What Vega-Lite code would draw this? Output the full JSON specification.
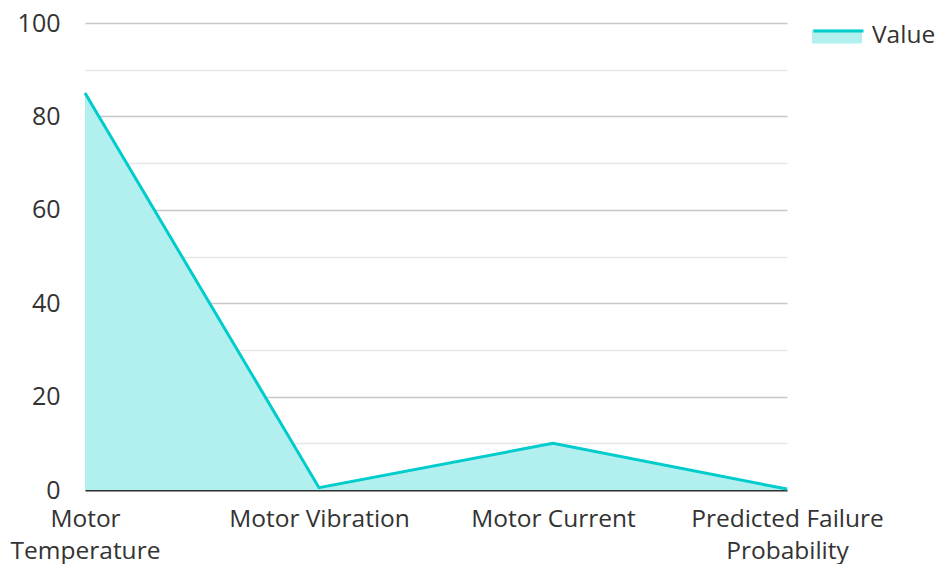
{
  "$schema": "https://vega.github.io/schema/vega-lite/v6.json",
  "width": 702,
  "height": 467,
  "autosize": {"type": "none"},
  "padding": {"left": 85, "top": 23, "right": 149, "bottom": 74},
  "background": "white",
  "config": {
    "view": {"stroke": null},
    "font": "Open Sans"
  },
  "data": {
    "values": [
      {"metric": "Motor Temperature", "value": 85},
      {"metric": "Motor Vibration", "value": 0.5},
      {"metric": "Motor Current", "value": 10},
      {"metric": "Predicted Failure Probability", "value": 0.2}
    ]
  },
  "encoding": {
    "x": {
      "field": "metric",
      "type": "ordinal",
      "sort": null,
      "scale": {"type": "point", "padding": 0},
      "axis": {
        "title": null,
        "labelAngle": 0,
        "labelFont": "Open Sans",
        "labelFontSize": 24.5,
        "labelColor": "#333333",
        "labelLimit": 0,
        "ticks": false,
        "domain": true,
        "domainColor": "#333333",
        "domainWidth": 2,
        "grid": false,
        "labelPadding": 17,
        "labelLineHeight": 32,
        "labelBaseline": "top",
        "labelExpr": "datum.value == 'Motor Temperature' ? ['Motor', 'Temperature'] : datum.value == 'Predicted Failure Probability' ? ['Predicted Failure', 'Probability'] : datum.label"
      }
    },
    "y": {
      "field": "value",
      "type": "quantitative",
      "scale": {"domain": [0, 100], "nice": false},
      "axis": {
        "title": null,
        "values": [0, 10, 20, 30, 40, 50, 60, 70, 80, 90, 100],
        "labelExpr": "datum.value % 20 === 0 ? datum.label : ''",
        "labelFont": "Open Sans",
        "labelFontSize": 25,
        "labelColor": "#333333",
        "ticks": false,
        "domain": false,
        "labelPadding": 25,
        "gridColor": {"condition": {"test": "datum.value % 20 === 0", "value": "#c8c8c8"}, "value": "#e6e6e6"},
        "gridWidth": 1.3
      }
    }
  },
  "layer": [
    {
      "mark": {"type": "area", "color": "#b2efef"},
      "encoding": {
        "fill": {
          "datum": "Value",
          "scale": {"range": ["#b2efef"]},
          "legend": {
            "title": null,
            "orient": "none",
            "legendX": 727,
            "legendY": -12,
            "symbolType": "M-1,-0.26H1V0.3H-1Z",
            "symbolSize": 2500,
            "symbolStrokeWidth": 0,
            "symbolOpacity": 1,
            "labelFont": "Open Sans",
            "labelFontSize": 24.5,
            "labelColor": "#333333",
            "labelOffset": 10
          }
        }
      }
    },
    {
      "mark": {"type": "line", "color": "#00cccc", "strokeWidth": 3},
      "encoding": {
        "stroke": {
          "datum": "Line",
          "scale": {"range": ["#00cccc"]},
          "legend": {
            "title": null,
            "orient": "none",
            "legendX": 727,
            "legendY": -12,
            "symbolType": "M-1,-0.26H1",
            "symbolSize": 2500,
            "symbolStrokeWidth": 3,
            "labelFontSize": 24.5,
            "labelOffset": 10,
            "labelExpr": "''"
          }
        }
      }
    }
  ]
}
